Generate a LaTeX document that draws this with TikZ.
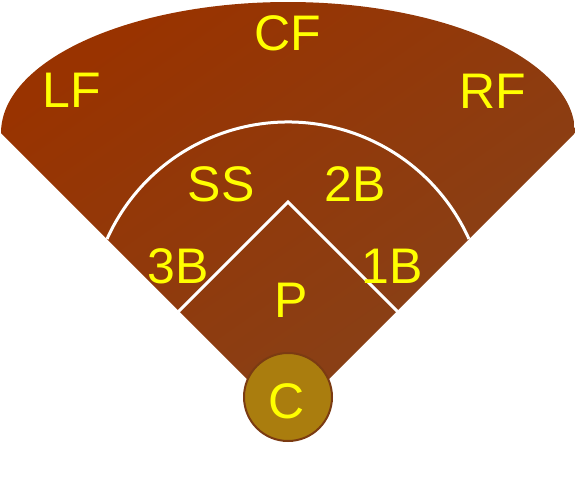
\documentclass[tikz,border=0pt]{standalone}
\usepackage{fontspec}
\setmainfont{Liberation Sans}
\definecolor{fieldtop}{HTML}{993300}
\definecolor{fieldbot}{HTML}{86421A}
\definecolor{catchfill}{HTML}{AA7D0E}
\definecolor{catchedge}{HTML}{7B3B12}
\definecolor{labelyellow}{HTML}{FFFF00}
\begin{document}
\begin{tikzpicture}[x=1pt,y=1pt,
  poslabel/.style={inner sep=0pt, text=labelyellow, font=\fontsize{50}{50}\selectfont},
  chalk/.style={draw=white, line width=3pt}]
\useasboundingbox (0,0) rectangle (575,-480);
% field
\shade[top color=fieldtop, bottom color=fieldbot, shading angle=35]
  (1,-133) arc[start angle=180, end angle=0, x radius=287pt, y radius=131pt] -- (288,-420) -- cycle;
% infield arc
\draw[chalk] (107,-239) arc[start angle=155.76, end angle=24.24, radius=198.5pt];
% diamond
\coordinate (third) at (179,-311);
\coordinate (second) at (288,-202);
\coordinate (first) at (397,-311);
\draw[chalk, line cap=round] (third) -- (second) -- (first);
% catcher
\node[circle, minimum size=88pt, inner sep=0pt, fill=catchfill, draw=catchedge, line width=2pt] (catcher) at (288,-397) {};
% labels
\node[poslabel] (cf) at (288,-33) {CF};
\node[poslabel] (lf) at (72,-90) {LF};
\node[poslabel] (rf) at (493,-91) {RF};
\node[poslabel] (ss) at (221,-184) {SS};
\node[poslabel] (sb) at (355,-184) {2B};
\node[poslabel] (tb) at (178,-266) {3B};
\node[poslabel] (fb) at (392,-266) {1B};
\node[poslabel] (p) at (291,-300) {P};
\node[poslabel] (c) at (287,-401) {C};
\end{tikzpicture}
\end{document}
